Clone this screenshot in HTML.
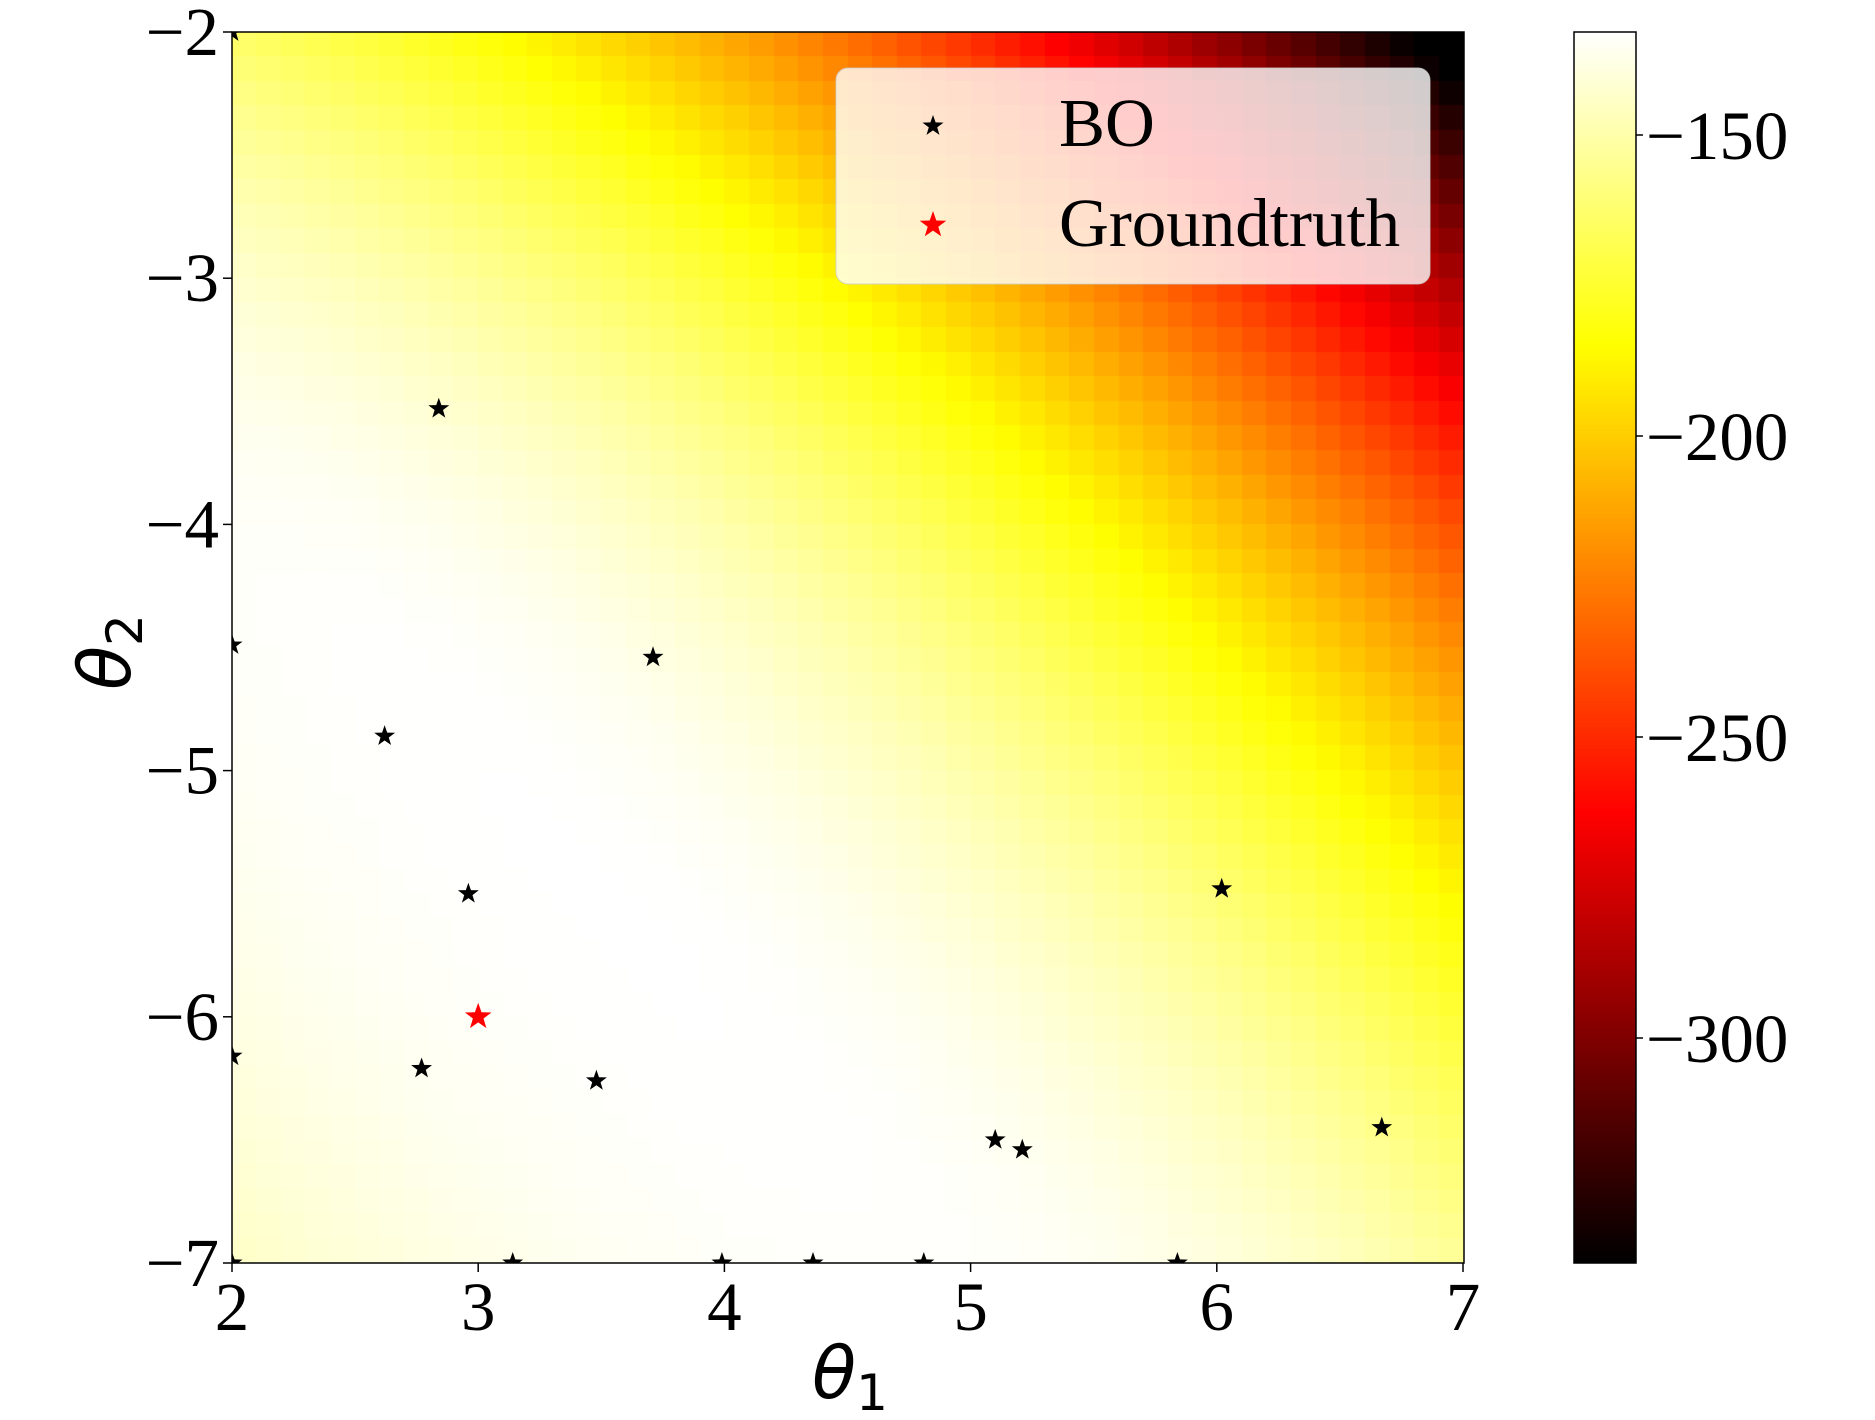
<!DOCTYPE html>
<html><head><meta charset="utf-8">
<style>
html,body{margin:0;padding:0;background:#fff;}
#wrap{position:relative;width:1875px;height:1420px;overflow:hidden;}
canvas{position:absolute;}
svg{position:absolute;left:0;top:0;font-family:"Liberation Serif",serif;}
</style></head>
<body><div id="wrap">
<canvas id="hm" width="1232" height="1231" style="left:232px;top:32px;width:1232px;height:1231px"></canvas>
<canvas id="cb" width="62" height="1231" style="left:1574px;top:32px;width:62px;height:1231px"></canvas>
<svg id="ov" width="1875" height="1420" xmlns="http://www.w3.org/2000/svg">
<defs><clipPath id="ax"><rect x="232" y="32" width="1232" height="1231"/></clipPath></defs>
<g id="stars" clip-path="url(#ax)"></g>
<rect x="232" y="32" width="1232" height="1231" fill="none" stroke="#000" stroke-width="1.5"/>
<rect x="1574" y="32" width="62" height="1231" fill="none" stroke="#000" stroke-width="1.5"/>
<g id="ticks" stroke="#000" stroke-width="1.5"></g>
<g id="labels" font-size="69" fill="#000"></g>
<rect x="836" y="68" width="594" height="216" rx="12" fill="#fff" fill-opacity="0.8" stroke="#ccc" stroke-opacity="0.8"/>
<g id="leg"></g>
<text x="1059" y="146" font-size="69">BO</text>
<text x="1059" y="246" font-size="69">Groundtruth</text>
<text x="812" y="1398" font-size="72" style="font-family:'DejaVu Sans',sans-serif" font-style="italic">θ<tspan font-style="normal" font-size="50" dy="12">1</tspan></text>
<text transform="translate(130,690) rotate(-90)" font-size="72" style="font-family:'DejaVu Sans',sans-serif" font-style="italic">θ<tspan font-style="normal" font-size="50" dy="12">2</tspan></text>
</svg>
</div>
<script>
var VMAX=-133,VMIN=-337.4;
function hot(t){t=Math.max(0,Math.min(1,t));
var r=Math.min(1,t/0.365),g=Math.max(0,Math.min(1,(t-0.365)/0.381)),b=Math.max(0,Math.min(1,(t-0.746)/0.254));
return [Math.round(r*255),Math.round(g*255),Math.round(b*255)];}
function f(x,y){var u=x+y;var g;
if(u>-2)g=4.1*(u+2)*(u+2);else g=1.2*(u+2)*(u+2);
g+=0.4*(x-3.5)*(x-3.5);
if(y>-4.5)g+=2.2*(y+4.5)*(y+4.5);
return -133-g;}
var c=document.getElementById('hm').getContext('2d');
var N=50,W=1232/N,H=1231/N;
for(var i=0;i<N;i++)for(var j=0;j<N;j++){
var x=2+(i+0.5)*5/N,y=-2-(j+0.5)*5/N;
var v=f(x,y);var col=hot((v-VMIN)/(VMAX-VMIN));
c.fillStyle='rgb('+col+')';
c.fillRect(Math.floor(i*W),Math.floor(j*H),Math.ceil(W)+1,Math.ceil(H)+1);}
var cb=document.getElementById('cb').getContext('2d');
for(var k=0;k<1231;k++){var t=1-k/1230;cb.fillStyle='rgb('+hot(t)+')';cb.fillRect(0,k,62,1);}
var NS='http://www.w3.org/2000/svg';
function el(tag,at,par,txt){var e=document.createElementNS(NS,tag);for(var a in at)e.setAttribute(a,at[a]);if(txt)e.textContent=txt;document.getElementById(par).appendChild(e);return e;}
function X(d){return 232+(d-2)*246.2;}
function Y(d){return 32+(-2-d)*246.2;}
for(var d=2;d<=7;d++){el('line',{x1:X(d),x2:X(d),y1:1263,y2:1272},'ticks');
el('text',{x:X(d),y:1330,'text-anchor':'middle'},'labels',''+d);}
for(var d=-2;d>=-7;d--){el('line',{x1:223,x2:232,y1:Y(d),y2:Y(d)},'ticks');
el('text',{x:219,y:Y(d)+23,'text-anchor':'end'},'labels','\u2212'+(-d));}
var cbt=[[150,135],[200,436],[250,737],[300,1038]];
cbt.forEach(function(p){el('line',{x1:1636,x2:1643,y1:p[1],y2:p[1]},'ticks');
el('text',{x:1646,y:p[1]+24},'labels','\u2212'+p[0]);});
function star(cx,cy,r,fill,par){var pts=[];for(var k=0;k<10;k++){var a=-Math.PI/2+k*Math.PI/5;var rr=k%2?r*0.4:r;pts.push((cx+rr*Math.cos(a)).toFixed(1)+','+(cy+rr*Math.sin(a)).toFixed(1));}
el('polygon',{points:pts.join(' '),fill:fill},par);}
var P=[[2.0,-2.0],[2.84,-3.53],[2.0,-4.49],[3.71,-4.54],[2.62,-4.86],[2.96,-5.50],[2.0,-6.16],[2.77,-6.21],[3.48,-6.26],[6.02,-5.48],[5.10,-6.50],[5.21,-6.54],[6.67,-6.45],[2.0,-7],[3.14,-7],[3.99,-7],[4.36,-7],[4.81,-7],[5.84,-7]];
P.forEach(function(p){star(X(p[0]),Y(p[1]),11,'#000','stars');});
star(X(3),Y(-6),14,'#f00','stars');
star(933,126,11,'#000','leg');
star(933,225,14,'#f00','leg');
</script>
</body></html>
